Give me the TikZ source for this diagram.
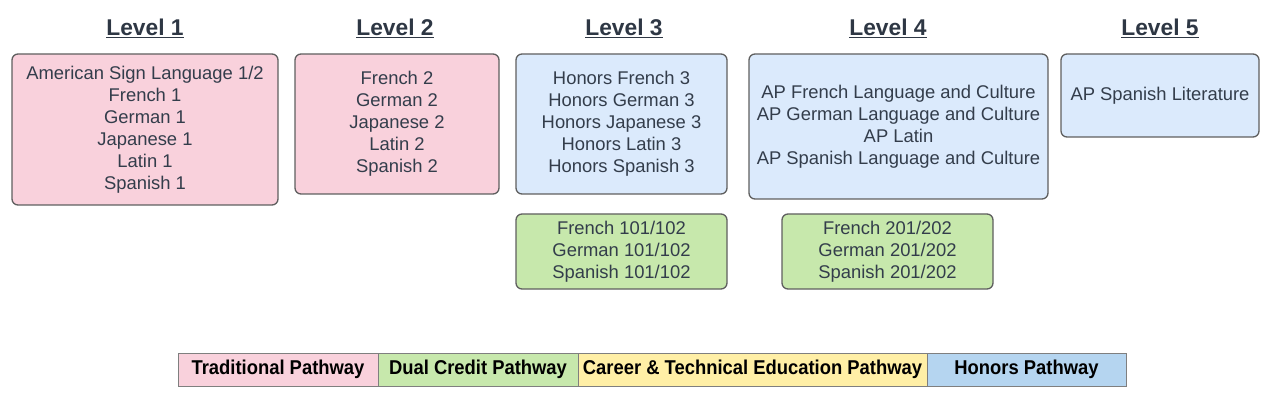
\documentclass[tikz,border=0pt]{standalone}
\usepackage{fontspec}
\setmainfont{Liberation Sans}
\newfontfamily\legendfont[FakeStretch=0.92]{Liberation Sans}
\usepackage{tikz}
\usetikzlibrary{positioning}
\definecolor{tradpink}{HTML}{F9D1DC}
\definecolor{dualgreen}{HTML}{C7E8AC}
\definecolor{ctegold}{HTML}{FFEFA6}
\definecolor{honblue}{HTML}{DBEAFC}
\definecolor{legblue}{HTML}{B5D5F0}
\definecolor{inkgrey}{HTML}{333D4B}
\definecolor{edgegrey}{HTML}{5F5F5F}

\begin{document}
\begin{tikzpicture}[
	x = 1pt, y = -1pt,
	level/.style={text=inkgrey!90!black, font=\fontsize{22.8}{26}\selectfont\bfseries},
	course/.style={draw=edgegrey, line width=1.3pt, rounded corners=6pt, text=inkgrey, align=center, inner sep=0pt, font=\fontsize{18.4}{22}\selectfont},
	legend/.style={draw=edgegrey!80, line width=1pt, minimum height=33, inner sep=0pt, outer sep=0pt, font=\legendfont\fontsize{20}{22}\selectfont\bfseries},
	]
	\useasboundingbox (0,0) rectangle (1280,414);
	
	% level headings
	\node (L1) [level] at (145,28) {\underline{Level 1}};
	\node (L2) [level] at (395,28) {\underline{Level 2}};
	\node (L3) [level] at (624,28) {\underline{Level 3}};
	\node (L4) [level] at (888,28) {\underline{Level 4}};
	\node (L5) [level] at (1160,28) {\underline{Level 5}};
	
	% traditional
	\node (trad1) [course, fill=tradpink, minimum width=266, minimum height=151] at (145,129.5)
	{American Sign Language 1/2\\French 1\\German 1\\Japanese 1\\Latin 1\\Spanish 1};
	\node (trad2) [course, fill=tradpink, minimum width=204, minimum height=140] at (397,124)
	{French 2\\German 2\\Japanese 2\\Latin 2\\Spanish 2};
	
	% honors
	\node (hon3) [course, fill=honblue, minimum width=211, minimum height=140] at (621.5,124)
	{Honors French 3\\Honors German 3\\Honors Japanese 3\\Honors Latin 3\\Honors Spanish 3};
	\node (hon4) [course, fill=honblue, minimum width=299, minimum height=145] at (898.5,126.5)
	{AP French Language and Culture\\AP German Language and Culture\\AP Latin\\AP Spanish Language and Culture};
	\node (hon5) [course, fill=honblue, minimum width=198, minimum height=83] at (1160,95.5)
	{AP Spanish Literature};
	
	% dual credit
	\node (dual3) [course, fill=dualgreen, minimum width=211, minimum height=75] at (621.5,251.5)
	{French 101/102\\German 101/102\\Spanish 101/102};
	\node (dual4) [course, fill=dualgreen, minimum width=211, minimum height=75] at (887.5,251.5)
	{French 201/202\\German 201/202\\Spanish 201/202};
	
	% legend
	\node (trad) [legend, fill=tradpink, minimum width=200] at (278,369.5) {Traditional Pathway};
	\node (dual) [legend, fill=dualgreen, minimum width=200, right=0pt of trad] {Dual Credit Pathway};
	\node (cte) [legend, fill=ctegold, minimum width=349, right=0pt of dual] {Career \& Technical Education Pathway};
	\node (hon) [legend, fill=legblue, minimum width=199, right=0pt of cte] {Honors Pathway};
\end{tikzpicture}
\end{document}
